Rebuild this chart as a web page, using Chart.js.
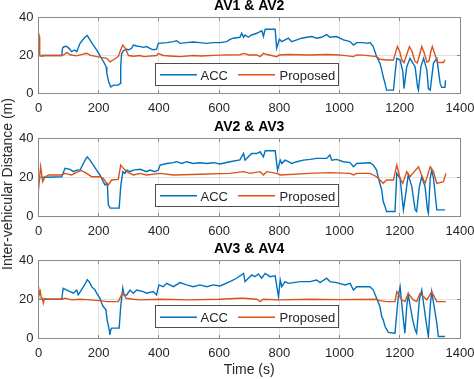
<!DOCTYPE html>
<html><head><meta charset="utf-8">
<script src="https://cdn.jsdelivr.net/npm/chart.js@4.4.1/dist/chart.umd.min.js"></script>
<style>
html,body{margin:0;padding:0;background:#fff;overflow:hidden;}
#wrap{position:relative;width:474px;height:379px;overflow:hidden;background:#fff;}
canvas{position:absolute;left:0;}
#ylab{position:absolute;font:14px "Liberation Sans",Arial,sans-serif;color:#262626;white-space:nowrap;left:7px;top:184px;transform:translate(-50%,-50%) rotate(-90deg);line-height:1;}
</style></head><body>
<div id="wrap">
<canvas id="c1"></canvas><canvas id="c2"></canvas><canvas id="c3"></canvas>
<div id="ylab">Inter-vehicular Distance (m)</div>
</div>
<script>
// ---- data ----
const xTickVals = [0,200,400,600,800,1000,1200,1400];
const yTickVals = [0,20,40];
const titles = ['AV1 & AV2','AV2 & AV3','AV3 & AV4'];
const seriesNames = ['ACC','Proposed'];
const xAxisLabel = 'Time (s)';

const acc12 = [[0,20],[77,20],[80,24],[86,24.7],[94,24.7],[103,23.5],[110,22],[121,22.9],[127,22],[138,26.4],[154,29.6],[162,30.5],[171,28.2],[182,25.5],[193,23],[206,19.4],[216,16.7],[225,14],[227,10.6],[233,6.2],[240,3.5],[249,4.4],[265,4.4],[271,5.3],[273,14],[276,21],[282,22.5],[293,23.3],[300,23],[309,23.8],[315,25.5],[326,25],[338,24.7],[348,24.3],[359,24.7],[370,23.8],[381,23],[392,23.3],[398,26.4],[426,26.8],[448,27.3],[459,27.8],[470,26.4],[492,26.8],[514,27.1],[536,26.8],[559,26.4],[581,26.8],[603,26.8],[625,27.3],[636,28.5],[647,29.1],[669,29.6],[675,31.7],[681,29.6],[686,30.8],[697,29.6],[708,30.8],[725,31.7],[736,32.6],[742,33],[747,30],[753,33.8],[786,33.8],[791,23.8],[800,28.5],[808,27.3],[819,28.2],[830,29.1],[841,27.3],[858,28.2],[874,29.1],[891,29.6],[908,30],[924,29.1],[940,29.6],[957,31],[968,29.6],[990,30],[1013,28.2],[1035,27.3],[1046,25.5],[1057,26.8],[1079,26.8],[1090,26.4],[1101,26.8],[1112,24.7],[1123,19.4],[1134,15.9],[1140,12.3],[1145,8.8],[1151,5.3],[1156,1.8],[1179,1.8],[1184,10],[1190,18.5],[1201,17.6],[1210,11.5],[1214,2.6],[1223,14],[1234,18.5],[1251,14],[1259,3.5],[1262,1.8],[1270,14],[1279,18.5],[1290,12.3],[1295,2.6],[1301,1.8],[1312,16],[1323,18.5],[1334,5.3],[1339,3.2],[1350,3.2],[1352,7]];
const pro12 = [[0,29],[2,30],[4,20],[10,19.6],[20,20],[77,20],[85,20.4],[94,21.6],[105,20.4],[127,19.8],[145,20.6],[160,21.2],[171,20.2],[182,19.8],[206,19],[227,18.5],[232,17.6],[238,16.7],[254,18.3],[265,19.4],[273,23],[280,25.5],[288,23.8],[299,20],[315,19.6],[338,20],[349,19.4],[392,20],[398,21],[415,20],[448,19.6],[470,19.4],[514,20],[540,19.7],[600,20.2],[669,20.4],[681,21.1],[700,20.3],[725,20.3],[736,19.4],[747,21.1],[760,20.5],[791,19.4],[800,20.3],[830,20.5],[900,20.3],[960,20.5],[1000,20.3],[1046,19.4],[1057,20.3],[1079,20.2],[1123,19.4],[1134,18],[1156,17.6],[1179,17.6],[1185,21],[1192,24.7],[1200,22],[1207,17.6],[1214,16.3],[1222,20],[1232,24.7],[1240,22.5],[1250,17],[1258,16],[1266,20.5],[1273,24.7],[1281,21.5],[1290,16.5],[1297,17],[1303,22],[1308,24.7],[1316,21],[1325,16.3],[1345,16.3],[1350,17.8]];

const acc23 = [[0,20],[77,20.4],[88,24.7],[105,24.2],[116,23],[127,23.8],[138,23.8],[149,27.2],[158,29.8],[162,30.6],[171,28.9],[182,26.4],[193,23.8],[204,21.3],[215,17.9],[221,16.2],[227,17],[229,15.3],[232,6],[238,4.3],[268,4.3],[273,15.3],[280,23],[287,22.1],[293,23.8],[304,23],[315,23.8],[338,24.2],[359,23],[370,23.8],[387,23],[398,23.8],[404,26.4],[426,27.2],[448,27.6],[459,28.1],[476,27.2],[492,28.1],[514,27.2],[536,27.6],[559,27.2],[581,27.6],[603,26.9],[636,28.1],[669,29],[681,32.3],[686,28.9],[697,30.6],[708,32.3],[725,32.3],[736,33.2],[747,30.6],[753,33.7],[786,33.7],[794,23.8],[803,28.9],[808,27.2],[819,28.9],[830,28.1],[841,27.2],[858,28.1],[880,28.9],[902,29.3],[924,29.8],[957,29.8],[968,31.5],[974,28.9],[990,29.3],[1013,28.1],[1035,27.6],[1046,25.5],[1057,27.2],[1101,27.6],[1112,26.4],[1123,23.8],[1129,19.6],[1140,13.6],[1145,7.7],[1151,5.1],[1156,2.6],[1184,2.6],[1190,22.1],[1201,19.6],[1212,3.4],[1217,8.5],[1228,21.3],[1240,15.3],[1251,3.4],[1256,2.6],[1265,15.3],[1273,20.4],[1284,15.3],[1292,3.4],[1295,1.7],[1301,19.6],[1306,23.8],[1312,19.6],[1323,3.4],[1350,3.4]];
const pro23 = [[0,13.6],[7,25.5],[14,17.9],[22,20.4],[35,21.3],[77,21.3],[88,22.1],[110,21.3],[132,23],[143,23.5],[160,22.1],[177,20.4],[204,20.4],[215,19.6],[227,17],[232,16.2],[243,18.7],[265,19],[273,26.4],[282,24.7],[293,23],[304,22.1],[315,21.3],[338,22.1],[359,21.3],[404,22.1],[448,21.3],[536,21.7],[636,22.1],[681,23],[703,22.1],[736,23],[747,21.3],[758,23],[791,22.1],[803,21.3],[900,22.1],[968,22.5],[1035,22.1],[1046,21.3],[1057,22.1],[1101,22.1],[1123,20.4],[1134,18.7],[1145,17],[1156,18.7],[1179,18.7],[1190,26.4],[1201,19.6],[1210,17],[1223,23],[1234,20.4],[1243,22.1],[1262,25.5],[1279,18.7],[1284,17],[1301,25.5],[1312,23],[1323,17],[1345,17.9],[1353,22.1]];

const acc34 = [[0,20],[77,20],[82,25.6],[94,24.7],[105,23.9],[116,23.1],[127,24.7],[132,22.2],[149,26.3],[158,28.8],[162,30],[169,28.8],[177,26.3],[188,24.7],[193,23.1],[204,20.5],[210,18],[215,16.3],[224,14.6],[228,9.5],[235,4.4],[237,1.9],[240,4.4],[243,5.3],[268,5.3],[273,16.3],[280,25.6],[284,22.2],[293,22.2],[304,24.7],[315,23.1],[326,24.7],[348,23.9],[359,23.1],[381,23.9],[392,22.2],[400,27.3],[414,26.4],[426,28.1],[448,26.4],[470,28.5],[492,27.3],[514,26.4],[536,27.3],[559,26.4],[581,27.3],[603,26.8],[636,29],[658,30.7],[681,33.2],[686,29],[697,30.7],[708,32.4],[719,31.5],[730,32.9],[741,30.7],[753,33.2],[769,31.5],[786,31.9],[797,21.4],[803,29.8],[808,26.4],[819,29],[830,28.1],[847,28.5],[869,29],[902,29],[924,29.8],[935,28.5],[957,30.7],[968,29],[990,28.5],[1018,27.3],[1035,28.1],[1046,24.7],[1057,26.4],[1101,26.4],[1112,24.7],[1123,20.5],[1134,16.3],[1140,11.2],[1145,9.5],[1151,6.1],[1162,3.1],[1184,2.7],[1195,21.4],[1201,26.4],[1212,9.5],[1217,2.7],[1223,16.3],[1228,22.2],[1243,9.5],[1251,4.4],[1256,2.7],[1265,19.7],[1273,24.7],[1288,7.8],[1295,1],[1301,16.3],[1306,23.9],[1323,7.8],[1328,1],[1350,1]];
const pro34 = [[0,26.4],[3,22.5],[6,24],[9,21],[13,20.5],[16,18],[20,20.3],[27,20],[77,20],[88,20.5],[110,19.7],[138,20],[171,19.7],[204,19.3],[227,18.8],[265,18.8],[273,21.4],[280,23.4],[291,20.5],[315,20],[338,19.7],[404,20],[500,19.7],[600,20],[669,20.5],[681,20.5],[725,20],[736,18.8],[747,20],[800,19.7],[900,20],[1000,19.8],[1123,20],[1134,19.3],[1156,18.8],[1184,18.8],[1190,23.9],[1207,19.7],[1217,18.8],[1228,23],[1245,19.7],[1256,18.8],[1267,23],[1290,19.7],[1306,23.9],[1323,18.8],[1353,18.8]];

// ---- styles / layout ----
const FONT = '"Liberation Sans", Arial, Helvetica, sans-serif';
const BLUE = '#0072BD', ORANGE = '#D95319';
const TXT = '#262626';
const PLOT_LEFT = 38.5, PLOT_RIGHT = 460, W = 474;

Chart.defaults.font.family = FONT;

function toXY(arr){ return arr.map(p => ({x:p[0], y:p[1]})); }
function crisp(v){ return Math.floor(v) + 0.5; }

const axesPlugin = {
  id: 'mlAxes',
  afterDraw(chart, args, o) {
    const ctx = chart.ctx, ca = chart.chartArea;
    const sx = chart.scales.x, sy = chart.scales.y;
    ctx.save();
    // box
    ctx.strokeStyle = '#8a8a8a'; ctx.lineWidth = 1;
    const L = crisp(ca.left), R = crisp(ca.right), T = crisp(ca.top), B = crisp(ca.bottom);
    ctx.strokeRect(L, T, R - L, B - T);
    // inward ticks
    ctx.beginPath();
    const tl = 3.5;
    xTickVals.forEach(v => { const px = crisp(sx.getPixelForValue(v));
      ctx.moveTo(px, B); ctx.lineTo(px, B - tl); ctx.moveTo(px, T); ctx.lineTo(px, T + tl); });
    yTickVals.forEach(v => { const py = crisp(sy.getPixelForValue(v));
      ctx.moveTo(L, py); ctx.lineTo(L + tl, py); ctx.moveTo(R, py); ctx.lineTo(R - tl, py); });
    ctx.stroke();
    // title
    ctx.fillStyle = '#000'; ctx.font = 'bold 14px ' + FONT;
    ctx.textAlign = 'center'; ctx.textBaseline = 'alphabetic';
    ctx.fillText(o.title, (ca.left + ca.right) / 2, ca.top - o.titleGap);
    // legend
    const lg = o.legend;
    const bx = lg.x, by = ca.top + lg.dy;
    ctx.fillStyle = '#fff';
    ctx.fillRect(bx, by, lg.w, lg.h);
    ctx.strokeStyle = '#4d4d4d';
    ctx.strokeRect(crisp(bx), crisp(by), Math.round(lg.w), Math.round(lg.h));
    ctx.font = '13px ' + FONT; ctx.textAlign = 'left';
    chart.data.datasets.forEach((ds, i) => {
      const it = lg.items[i];
      ctx.strokeStyle = ds.borderColor; ctx.lineWidth = 1.5;
      ctx.beginPath(); ctx.moveTo(it[0], by + lg.lineDy); ctx.lineTo(it[1], by + lg.lineDy); ctx.stroke();
      ctx.fillStyle = TXT;
      ctx.fillText(ds.label, it[2], by + lg.textDy);
    });
    ctx.restore();
  }
};

function makeChart(id, k, acc, pro, top, bottom, showX) {
  const plotH = bottom - top;
  const cv = document.getElementById(id);
  const canvasTop = Math.floor(top) - 24;
  const offset = top - canvasTop;
  const nominalXH = showX ? 42 : 24;
  const canvasH = Math.ceil(offset + plotH + nominalXH);
  const xH = canvasH - offset - plotH;
  cv.width = W; cv.height = canvasH;
  cv.style.width = W + 'px'; cv.style.height = canvasH + 'px';
  cv.style.top = canvasTop + 'px';
  const scaleBottomAbs = canvasTop + canvasH;
  return new Chart(cv, {
    type: 'line',
    data: {
      datasets: [
        { label: seriesNames[0], data: toXY(acc), borderColor: BLUE, borderWidth: 1.4, pointRadius: 0, tension: 0, order: 2 },
        { label: seriesNames[1], data: toXY(pro), borderColor: ORANGE, borderWidth: 1.4, pointRadius: 0, tension: 0, order: 1 }
      ]
    },
    options: {
      responsive: false, animation: false, events: [],
      layout: { padding: { left: 0, right: W - PLOT_RIGHT, top: offset, bottom: 0 } },
      plugins: {
        legend: { display: false }, tooltip: { enabled: false }, title: { display: false },
        mlAxes: {
          title: titles[k], titleGap: 7.5,
          legend: { x: 155.5, dy: 45.8, w: 183, h: 21.5, lineDy: 11.5, textDy: 16.3,
                    items: [[160, 197, 200.5], [238, 275, 279.5]] }
        }
      },
      scales: {
        x: {
          type: 'linear', min: xTickVals[0], max: xTickVals[xTickVals.length - 1],
          afterBuildTicks: s => { s.ticks = xTickVals.map(v => ({ value: v })); },
          grid: { color: '#e2e2e2', drawTicks: false, lineWidth: 1 },
          border: { display: false },
          ticks: { padding: 7, color: TXT, font: { size: 13 }, maxRotation: 0, autoSkip: false, callback: v => String(v) },
          title: { display: !!showX, text: xAxisLabel, color: TXT, font: { size: 14 },
                   padding: { top: 0, bottom: showX ? (scaleBottomAbs - 370.5 - 8.4) : 0 } },
          afterFit: s => { s.height = xH; s.paddingLeft = 0; s.paddingRight = 0; }
        },
        y: {
          type: 'linear', min: yTickVals[0], max: yTickVals[yTickVals.length - 1],
          afterBuildTicks: s => { s.ticks = yTickVals.map(v => ({ value: v })); },
          grid: { color: '#e2e2e2', drawTicks: false, lineWidth: 1 },
          border: { display: false },
          ticks: { padding: 5, color: TXT, font: { size: 13 }, callback: v => String(v) },
          afterFit: s => { s.width = PLOT_LEFT; s.paddingTop = 0; s.paddingBottom = 0; }
        }
      }
    },
    plugins: [axesPlugin]
  });
}

makeChart('c1', 0, acc12, pro12, 17.5, 93.5, false);
makeChart('c2', 1, acc23, pro23, 138.5, 216.5, false);
makeChart('c3', 2, acc34, pro34, 260, 338.5, true);
</script>
</body></html>
